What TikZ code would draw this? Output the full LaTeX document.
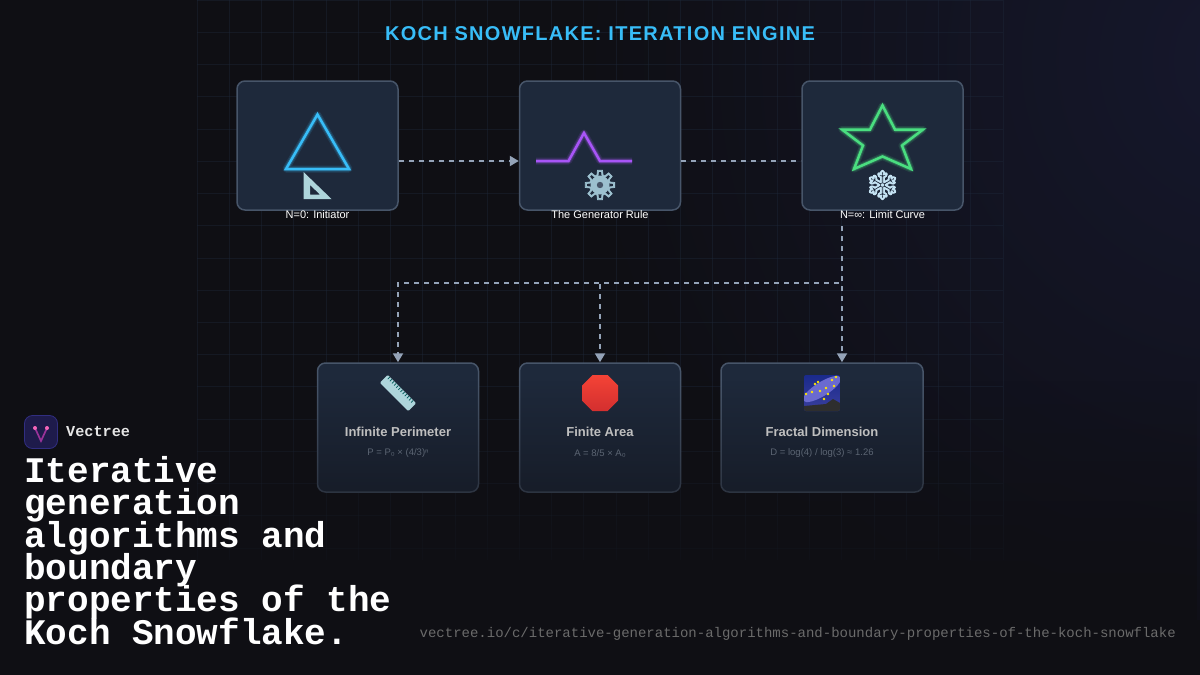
\documentclass[tikz,border=0pt]{standalone}
\usepackage{fontspec}
\setmainfont{Liberation Sans}
\setmonofont{Liberation Mono}
\newfontfamily\titlefont[LetterSpace=6.4]{Liberation Sans}
\newfontfamily\emojifont[FakeBold=2.5]{Noto Emoji}
\usetikzlibrary{arrows.meta,calc,fadings}
\lineskiplimit=-30pt

\definecolor{bgbase}{HTML}{0F0F14}
\definecolor{bgglow}{HTML}{16182D}
\definecolor{gridline}{HTML}{1E293B}
\definecolor{cardfill}{HTML}{1E293B}
\definecolor{cardedge}{HTML}{475569}
\definecolor{linkgrey}{HTML}{94A3B8}
\definecolor{neonblue}{HTML}{38BDF8}
\definecolor{neonviolet}{HTML}{A855F7}
\definecolor{neongreen}{HTML}{4ADE80}
\definecolor{icepale}{HTML}{AED5DB}
\definecolor{gearblue}{HTML}{9CC0CF}
\definecolor{flakeblue}{HTML}{C5E3F3}
\definecolor{formulagrey}{HTML}{5C6573}
\definecolor{octtop}{HTML}{F44336}
\definecolor{octbot}{HTML}{D32F2F}
\definecolor{skytop}{HTML}{1A2A8C}
\definecolor{skybot}{HTML}{3A3F9E}
\definecolor{skyband}{HTML}{6A6AD0}
\definecolor{logofill}{HTML}{1E1B4B}
\definecolor{logoedge}{HTML}{312E81}
\tikzfading[name=glowfade,inner color=transparent!0,outer color=transparent!100]

\begin{document}
\begin{tikzpicture}[
  x=1pt,y=-1pt,
  gridrule/.style={draw=gridline,line width=0.8pt,opacity=0.4},
  card/.style={draw=cardedge,fill=cardfill,line width=1.5pt,rounded corners=8pt,inner sep=0pt,minimum height=129pt},
  stage/.style={card,minimum width=161pt},
  wide/.style={card,minimum width=202pt},
  caption/.style={font=\fontsize{11}{13}\selectfont,text=white},
  head/.style={font=\bfseries\fontsize{13}{15}\selectfont,text=black!25},
  formula/.style={font=\fontsize{9.5}{11}\selectfont,text=formulagrey},
  link/.style={draw=linkgrey,line width=2pt,dash pattern=on 5pt off 5pt},
  linkhead/.style={link,-{Triangle[length=9pt,width=10pt]}},
  neon/.style={draw=#1,line width=2.5pt,line join=miter,preaction={draw=#1,line join=round,line width=7pt,opacity=0.14},preaction={draw=#1,line join=round,line width=4.5pt,opacity=0.25}},
  icon/.style={font=\emojifont\fontsize{29}{30}\selectfont,text=#1},
]
\useasboundingbox (0,0) rectangle (1200,675);
\fill[bgbase] (0,0) rectangle (1200,675);
\begin{scope}
  \clip (0,0) rectangle (1200,675);
  \fill[bgglow,path fading=glowfade] (1250,60) circle (680);
\end{scope}

\foreach \k in {0,...,25} {
  \draw[gridrule] ({197+32.24*\k},0) -- ({197+32.24*\k},560);
}
\foreach \k in {0,...,17} {
  \draw[gridrule] (197,{32.24*\k}) -- (1003,{32.24*\k});
}

\node[font=\titlefont\bfseries\fontsize{20}{24}\selectfont,text=neonblue] (title) at (600,34) {KOCH SNOWFLAKE: ITERATION ENGINE};

\node[stage] (init) at (317.5,145.5) {};
\node[stage] (gen) at (600,145.5) {};
\node[stage] (lim) at (882.5,145.5) {};
\node[stage] (per) at (398,427.5) {};
\node[stage] (area) at (600,427.5) {};
\node[wide] (dim) at (822,427.5) {};

\coordinate (flow) at (600,161);
\coordinate (limfoot) at (842,226);
\coordinate (bus) at (842,282.5);
\draw[linkhead] (init.east |- flow) -- (gen.west |- flow);
\draw[link] (gen.east |- flow) -- (lim.west |- flow);
\draw[linkhead] (limfoot) -- (bus) -| (per.north);
\draw[linkhead] (limfoot) -- (bus) -| (area.north);
\draw[linkhead] (limfoot) -- (dim.north -| bus);

\draw[neon=neonblue] (317.5,114.5) -- (349,169) -- (286,169) -- cycle;
\draw[neon=neonviolet] (536,161) -- (568.5,161) -- (584,133) -- (600,161) -- (632,161);
\draw[neon=neongreen] (882.5,105.5) -- (895,129.5) -- (923,129.5) -- (902,145.5) -- (911,169) -- (882.5,156.5) -- (854,169) -- (863,145.5) -- (842,129.5) -- (870,129.5) -- cycle;

\fill[icepale,even odd rule] (303.5,172) -- (303.5,199) -- (331.5,199) -- cycle (310,185) -- (310,194.5) -- (320,194.5) -- cycle;
\fill[gearblue] (600,185) circle (9.5);
\node[icon=gearblue] (gear) at (600,185) {⚙};
\fill[cardedge] (600,185) circle (3.2);
\node[icon=flakeblue] (flake) at (882.5,185) {❄};

\node[caption] (initcap) at (317.5,214.5) {N=0: Initiator};
\node[caption] (gencap) at (600,214.5) {The Generator Rule};
\node[caption] (limcap) at (882.5,214.5) {N=∞: Limit Curve};

\fill[bgbase,path fading=north] (0,380) rectangle (1200,620);
\fill[bgbase] (0,619.5) rectangle (1200,675);

\begin{scope}[shift={(398,393)},rotate=-45]
  \fill[icepale,rounded corners=1pt] (-20,-5.5) rectangle (20,5.5);
  \foreach \t in {-17,-14,...,17} {
    \draw[teal!70!black,line width=0.7pt] (\t,-5.5) -- (\t,-2.5);
  }
\end{scope}
\shade[top color=octtop,bottom color=octbot] (592.5,375) -- (607.5,375) -- (618,385.5) -- (618,400.5) -- (607.5,411) -- (592.5,411) -- (582,400.5) -- (582,385.5) -- cycle;
\begin{scope}
  \clip[rounded corners=2pt] (804,375) rectangle (840,411);
  \shade[top color=skytop,bottom color=skybot] (804,375) rectangle (840,411);
  \fill[skyband,rotate around={32:(822,389)}] (822,389) ellipse (22 and 7);
  \foreach \sx/\sy in {806/394,815/384,820/391,826/388,832/380,824/399,836/377,828/394,812/392,818/382,834/386} {
    \fill[yellow!90!orange] (\sx,\sy) circle (1.3);
  }
  \fill[black!82] (804,406) -- (815,405) -- (826,404) -- (833,399) -- (840,403) -- (840,411) -- (804,411) -- cycle;
\end{scope}

\node[head] (perhead) at (398,432) {Infinite Perimeter};
\node[formula] (performula) at (398,453.5) {P = P₀ × (4/3)ⁿ};
\node[head] (areahead) at (600,432) {Finite Area};
\node[formula] (areaformula) at (600,453.5) {A = 8/5 × A₀};
\node[head] (dimhead) at (822,432) {Fractal Dimension};
\node[formula] (dimformula) at (822,453.5) {D = log(4) / log(3) ≈ 1.26};

\node[draw=logoedge,fill=logofill,rounded corners=8pt,line width=0.8pt,minimum size=33pt,inner sep=0pt] (logo) at (41,432) {};
\draw[violet!80!white,line width=1.7pt] (35,428) -- (41,441) -- (47,428);
\fill[magenta!60!white] (35,428) circle (2) (47,428) circle (2);
\node[anchor=west,inner sep=0pt,font=\ttfamily\bfseries\fontsize{15.2}{18}\selectfont,text=white!90!black] (brand) at (66,432) {Vectree};
\node[anchor=north west,align=left,inner sep=0pt,font=\ttfamily\bfseries\fontsize{36}{32.4}\selectfont,text=white] (headline) at (24,456) {Iterative\\generation\\algorithms and\\boundary\\properties of the\\Koch Snowflake.};
\node[anchor=east,inner sep=0pt,font=\ttfamily\fontsize{14}{16}\selectfont,text=white!42!black] (url) at (1176,633.5) {vectree.io/c/iterative-generation-algorithms-and-boundary-properties-of-the-koch-snowflake};
\end{tikzpicture}
\end{document}
